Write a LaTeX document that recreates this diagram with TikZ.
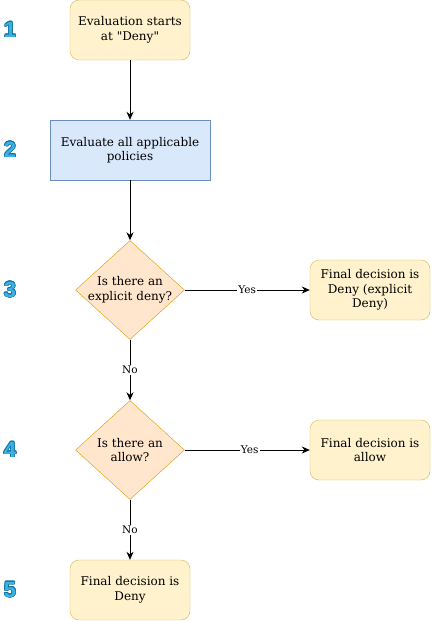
\documentclass[tikz,border=0pt]{standalone}
\usepackage{fontspec}
\setmainfont{DejaVu Serif}[Ligatures=TeXOff]
\newfontfamily\numfont{Liberation Sans}
\usepackage[copies]{contour}
\usetikzlibrary{shapes.geometric,arrows.meta}
\definecolor{ybox}{HTML}{FFF2CC}
\definecolor{ydraw}{HTML}{D6B656}
\definecolor{bbox}{HTML}{DAE8FC}
\definecolor{bdraw}{HTML}{6C8EBF}
\definecolor{obox}{HTML}{FFE6CC}
\definecolor{odraw}{HTML}{D79B00}
\definecolor{numfill}{HTML}{3DB0E6}
\definecolor{numline}{HTML}{10739E}
\contourlength{0.6pt}
\contournumber{16}
\tikzset{
  ybx/.style={draw=ydraw,fill=ybox,rounded corners=9pt,minimum width=120pt,minimum height=60pt,align=center,font=\fontsize{12}{14.5}\selectfont,inner sep=0pt},
  bbx/.style={draw=bdraw,fill=bbox,minimum width=160pt,minimum height=60pt,align=center,font=\fontsize{12}{14.5}\selectfont,inner sep=0pt},
  dia/.style={draw=odraw,fill=obox,diamond,minimum width=109pt,minimum height=99pt,aspect=1.1,align=center,font=\fontsize{12}{14.5}\selectfont,inner xsep=-22pt,inner ysep=-6pt},
  num/.style={font=\numfont\bfseries\fontsize{22}{22}\selectfont,inner sep=0pt},
  arr/.style={draw=black,line width=0.8pt,-{Stealth[length=8pt,width=7pt]}},
  lbl/.style={fill=white,font=\fontsize{10.5}{12}\selectfont,inner sep=1pt}
}
\newcommand{\stepnum}[1]{\contour{numline}{\textcolor{numfill}{#1}}}
\begin{document}
\begin{tikzpicture}[x=1pt,y=-1pt]
\useasboundingbox (0,0) rectangle (431,621);
\node[ybx] (s1) at (130,30) {Evaluation starts\\at "Deny"};
\node[bbx] (s2) at (130,150) {Evaluate all applicable\\policies};
\node[dia] (d1) at (130,290) {Is there an\\explicit deny?};
\node[ybx] (r1) at (370,290) {Final decision is\\Deny (explicit\\Deny)};
\node[dia] (d2) at (130,450) {Is there an\\allow?};
\node[ybx] (r2) at (370,450) {Final decision is\\allow};
\node[ybx] (s5) at (130,590) {Final decision is\\Deny};
\node[num] (n1) at (10,30) {\stepnum{1}};
\node[num] (n2) at (10,150) {\stepnum{2}};
\node[num] (n3) at (10,290) {\stepnum{3}};
\node[num] (n4) at (10,450) {\stepnum{4}};
\node[num] (n5) at (10,590) {\stepnum{5}};
\draw[arr] (s1) -- (s2);
\draw[arr] (s2) -- (d1);
\draw[arr] (d1) -- node[lbl,pos=0.5] {Yes} (r1);
\draw[arr] (d1) -- node[lbl,pos=0.5] {No} (d2);
\draw[arr] (d2) -- node[lbl,pos=0.52] {Yes} (r2);
\draw[arr] (d2) -- node[lbl,pos=0.5] {No} (s5);
\end{tikzpicture}
\end{document}
